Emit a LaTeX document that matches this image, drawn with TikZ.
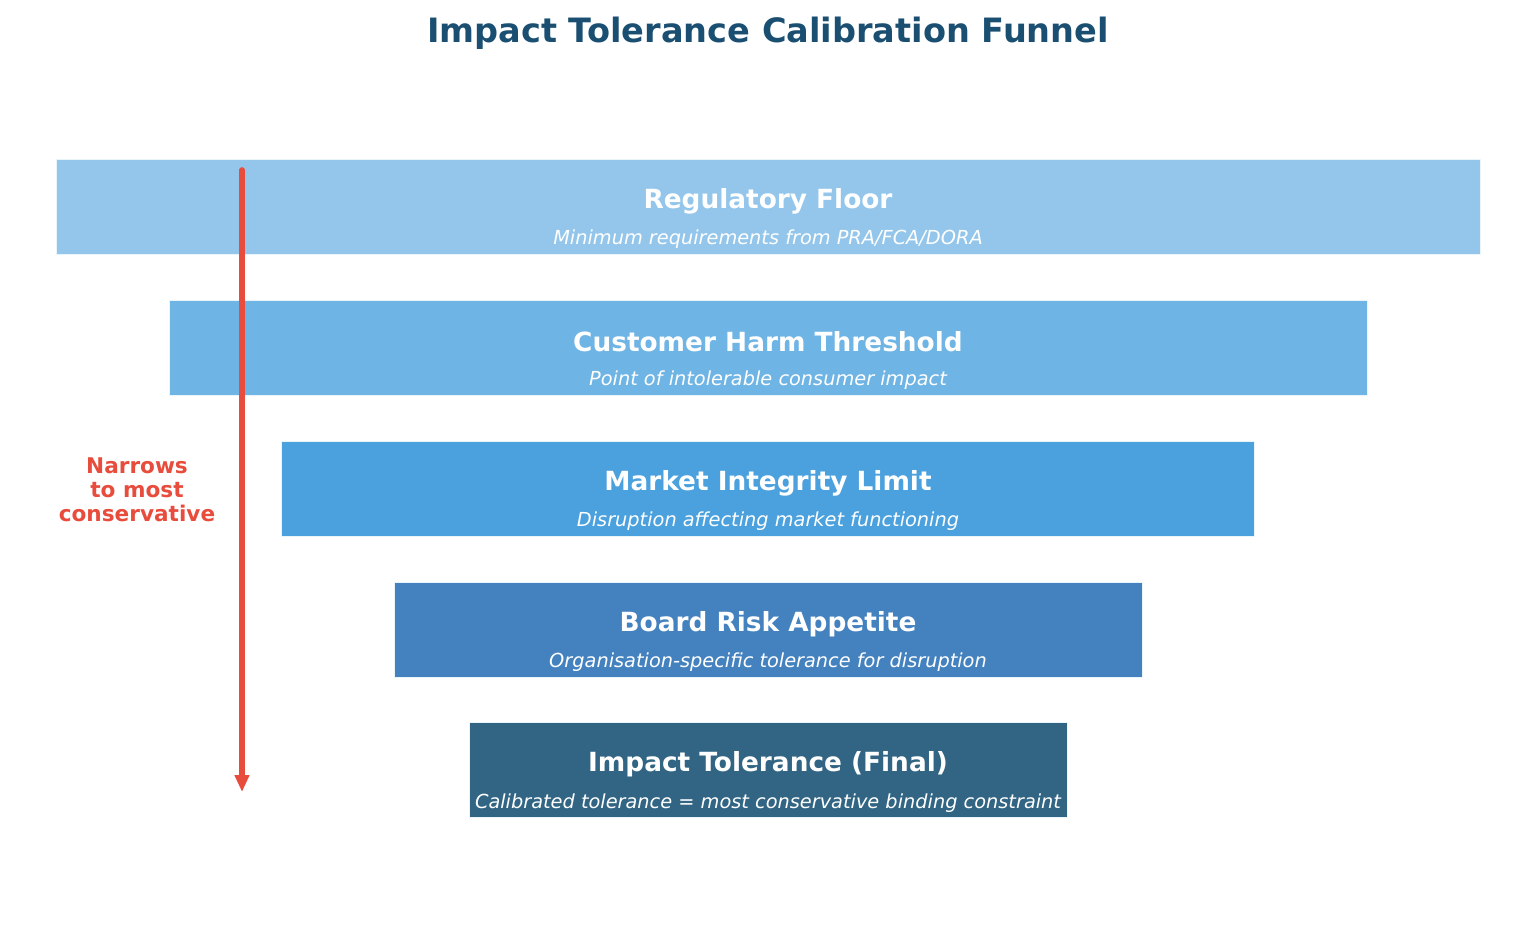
\documentclass[tikz,border=0pt]{standalone}
\usepackage{fontspec}
\setmainfont{DejaVu Sans}
\usepackage{tikz}
\usetikzlibrary{arrows.meta, positioning}
\definecolor{titleblue}{HTML}{1B4F72}
\definecolor{tierA}{HTML}{93C6EA}
\definecolor{tierB}{HTML}{6EB4E4}
\definecolor{tierC}{HTML}{4AA1DD}
\definecolor{tierD}{HTML}{4482BF}
\definecolor{tierE}{HTML}{316583}
\definecolor{narrowred}{HTML}{E74C3C}

\begin{document}
\begin{tikzpicture}[
    x=0.02cm, y=-0.02cm,
    tier/.style={draw=white!80!tierA, line width=0.4pt, rectangle, minimum height=1.9cm, inner sep=0pt},
    head/.style={draw=none, text=white, font=\fontsize{15}{18}\selectfont\bfseries},
    sub/.style={draw=none, text=white, font=\fontsize{11}{13}\selectfont\itshape},
    label/.style={draw=none, text=narrowred, align=center, font=\fontsize{12.3}{13.6}\selectfont\bfseries}
  ]
  \useasboundingbox (0,0) rectangle (1536,929);
  \node[text=titleblue, font=\fontsize{19.1}{23}\selectfont\bfseries] (title) at (768,33) {Impact Tolerance Calibration Funnel};

  \node[tier, fill=tierA, minimum width=28.48cm] (reg) at (768,207) {};
  \node[tier, fill=tierB, minimum width=23.96cm] (cust) at (768,348) {};
  \node[tier, fill=tierC, minimum width=19.46cm] (mkt) at (768,489) {};
  \node[tier, fill=tierD, minimum width=14.96cm] (board) at (768,630) {};
  \node[tier, fill=tierE, minimum width=11.96cm] (final) at (768,770) {};

  \node[head] (regH) at (768,201) {Regulatory Floor};
  \node[sub] (regS) at (768,239) {Minimum requirements from PRA/FCA/DORA};
  \node[head] (custH) at (768,342) {Customer Harm Threshold};
  \node[sub] (custS) at (768,380) {Point of intolerable consumer impact};
  \node[head] (mktH) at (768,483) {Market Integrity Limit};
  \node[sub] (mktS) at (768,521) {Disruption affecting market functioning};
  \node[head] (boardH) at (768,624) {Board Risk Appetite};
  \node[sub] (boardS) at (768,662) {Organisation-specific tolerance for disruption};
  \node[head] (finalH) at (768,764) {Impact Tolerance (Final)};
  \node[sub] (finalS) at (768,803) {Calibrated tolerance = most conservative binding constraint};

  \coordinate (top) at (242,170);
  \coordinate (bot) at (242,792);
  \draw[-{Triangle[length=0.34cm, width=0.28cm]}, line width=3.2pt, line cap=round, narrowred] (top) -- (bot);
  \node[label] (narrow) at (137,490) {Narrows\\to most\\conservative};
\end{tikzpicture}
\end{document}
